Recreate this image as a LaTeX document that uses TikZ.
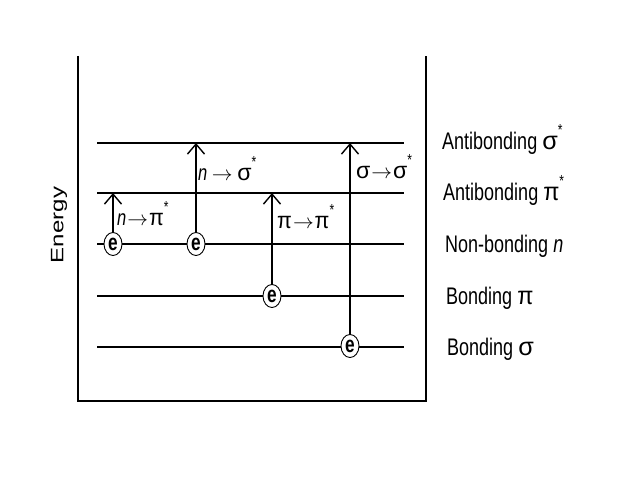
\documentclass[tikz,border=0pt]{standalone}
\usepackage{fontspec}
\setmainfont[FakeStretch=0.75]{Liberation Sans}
\newfontfamily\plainfont{Liberation Sans}
\usetikzlibrary{arrows.meta,shapes.geometric}
\tikzset{
 level/.style={line width=1.4pt},
 frame/.style={line width=1.2pt},
 trans/.style={line width=1.8pt, -{Straight Barb[length=10pt,width=17pt,line width=1.4pt]}},
 elec/.style={ellipse, draw, line width=0.9pt, fill=white, minimum width=18pt, minimum height=23pt, inner sep=0pt, font=\fontsize{23}{23}\selectfont\bfseries},
 lbl/.style={anchor=base west, inner sep=0pt, font=\fontsize{24}{24}\selectfont},
 tlbl/.style={anchor=base west, inner sep=0pt, font=\fontsize{22}{22}\selectfont},
}
\newcommand\starsup{\raisebox{0.62em}{\fontsize{16}{16}\selectfont *}}
\newcommand\gs{\scalebox{1.4}[1.05]{σ}}
\newcommand\gp{\scalebox{1.3}[1.05]{π}}
\newcommand\arr{\kern1pt$\rightarrow$\kern1pt}
\begin{document}
\begin{tikzpicture}[x=1pt,y=-1pt]
\useasboundingbox (0,0) rectangle (638,478);
% frame
\coordinate (ftl) at (78,56);
\coordinate (fbl) at (78,401);
\coordinate (fbr) at (426,401);
\coordinate (ftr) at (426,56);
\draw[frame] (ftl) -- (fbl) -- (fbr) -- (ftr);
% levels
\coordinate (l1a) at (97,143); \coordinate (l1b) at (404,143);
\coordinate (l2a) at (97,193); \coordinate (l2b) at (404,193);
\coordinate (l3a) at (97,244); \coordinate (l3b) at (404,244);
\coordinate (l4a) at (97,296); \coordinate (l4b) at (404,296);
\coordinate (l5a) at (97,347); \coordinate (l5b) at (404,347);
\foreach \i in {1,...,5} {\draw[level] (l\i a) -- (l\i b);}
% electrons
\node[elec] (ea) at (113,244) {e};
\node[elec] (eb) at (196,244) {e};
\node[elec] (ec) at (272,296) {e};
\node[elec] (ed) at (350,346) {e};
% arrow targets
\coordinate (ta) at (113,193);
\coordinate (tb) at (196,143);
\coordinate (tc) at (272,193);
\coordinate (td) at (350,143);
\draw[trans] (ea.north) -- (ta);
\draw[trans] (eb.north) -- (tb);
\draw[trans] (ec.north) -- (tc);
\draw[trans] (ed.north) -- (td);
% transition labels
\node[tlbl] (na) at (117,226) {\textit{n}\arr\gp\starsup};
\node[tlbl] (nb) at (198,181) {\textit{n} $\rightarrow$ \gs\starsup};
\node[tlbl] (nc) at (277,229) {\gp\arr\gp\starsup};
\node[tlbl] (nd) at (356,179) {\gs\arr\gs\starsup};
% right labels
\node[lbl] (r1) at (442,150) {Antibonding \gs\starsup};
\node[lbl] (r2) at (443,201) {Antibonding \gp\starsup};
\node[lbl] (r3) at (445,253) {Non-bonding \textit{n}};
\node[lbl] (r4) at (446,305) {Bonding \gp};
\node[lbl] (r5) at (447,356) {Bonding \gs};
% energy
\node[rotate=90, inner sep=0pt] (en) at (59,225) {\scalebox{1}[0.75]{\plainfont\fontsize{24}{24}\selectfont Energy}};
\end{tikzpicture}
\end{document}
